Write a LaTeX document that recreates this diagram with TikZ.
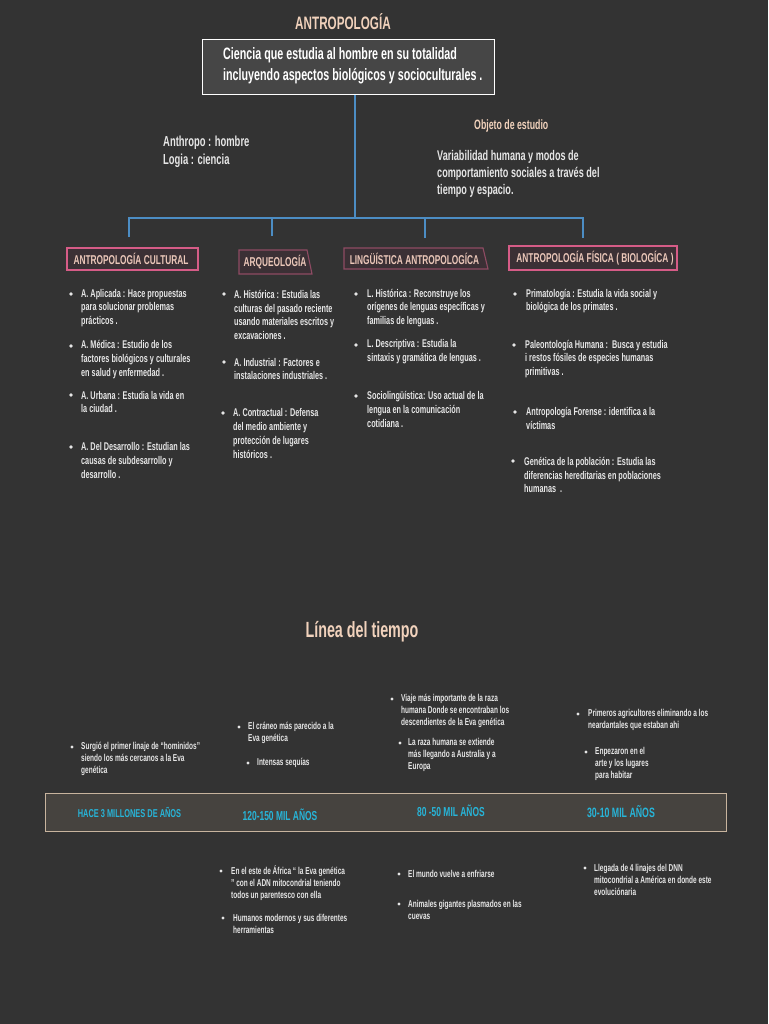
\documentclass[tikz,border=0pt]{standalone}
\usepackage{fontspec}
\setmainfont{Liberation Sans}[FakeStretch=0.65]
\definecolor{bg}{HTML}{333333}
\definecolor{boxgray}{HTML}{464646}
\definecolor{peach}{HTML}{F1D2BC}
\definecolor{hpeach}{HTML}{EBC7B9}
\definecolor{linkblue}{HTML}{4C8DC4}
\definecolor{pinkA}{HTML}{D65C87}
\definecolor{pinkB}{HTML}{8E4B63}
\definecolor{hfillc}{HTML}{3B3035}
\definecolor{bodyc}{HTML}{E6E6E6}
\definecolor{bandfill}{HTML}{46433F}
\definecolor{bandline}{HTML}{C8B49E}
\definecolor{cyanlab}{HTML}{27B5D9}
\tikzset{
  conn/.style={draw=linkblue, line width=1.1pt},
  hbox/.style={draw=pinkA, fill=hfillc, line width=1.1pt, inner sep=0pt},
  htxt/.style={text=hpeach, font=\fontsize{12.8}{14}\selectfont\bfseries, inner sep=0pt},
  toptxt/.style={text=bodyc, font=\fontsize{11.2}{13.8}\selectfont\bfseries, align=left, inner sep=0pt, anchor=west},
  tltxt/.style={text=bodyc, font=\fontsize{10}{12}\selectfont\bfseries, align=left, inner sep=0pt, anchor=west},
  labtxt/.style={text=cyanlab, inner sep=0pt},
}
\newcommand\topitem[6]{%
  \fill[bodyc] (#2,#4) circle (1.9);
  \node[toptxt] (#1) at (#3,{(#4+#5)/2}) {#6};
}
\newcommand\tlitem[6]{%
  \fill[bodyc] (#2,#4) circle (1.6);
  \node[tltxt] (#1) at (#3,{(#4+#5)/2}) {#6};
}
\begin{document}
\begin{tikzpicture}[x=1pt,y=-1pt]
\fill[bg] (0,0) rectangle (768,1024);
\useasboundingbox (0,0) rectangle (768,1024);

% title
\node[text=peach, font=\fontsize{18}{20}\selectfont\bfseries, inner sep=0pt] (title) at (343,22) {ANTROPOLOGÍA};

% main box
\node[draw=white, fill=boxgray, line width=1.2pt, minimum width=292pt, minimum height=55pt, anchor=north west, inner sep=0pt] (main) at (202,39) {};
\node[text=white, font=\fontsize{16.5}{21}\selectfont\bfseries, align=left, anchor=west, inner sep=0pt] (maintxt) at (223,65.5) {Ciencia que estudia al hombre en su totalidad\\incluyendo aspectos biológicos y socioculturales .};

% side texts
\node[text=bodyc, font=\fontsize{14.5}{18}\selectfont\bfseries, align=left, anchor=west, inner sep=0pt] (etym) at (163,152) {Anthropo : hombre\\Logia : ciencia};
\node[text=peach, font=\fontsize{13.5}{15}\selectfont\bfseries, anchor=west, inner sep=0pt] (objhead) at (474,126) {Objeto de estudio};
\node[text=bodyc, font=\fontsize{14}{17.3}\selectfont\bfseries, align=left, anchor=west, inner sep=0pt] (objtxt) at (437,174) {Variabilidad humana y modos de\\comportamiento sociales a través del\\tiempo y espacio.};

% connectors
\coordinate (hub) at (355,218);
\coordinate (d1) at (129,237);
\coordinate (d2) at (272,236);
\coordinate (d3) at (425,238);
\coordinate (d4) at (583,238);
\draw[conn] (main.south -| hub) -- (hub);
\draw[conn] (d1) -- (d1 |- hub) -- (d4 |- hub) -- (d4);
\draw[conn] (d2) -- (d2 |- hub);
\draw[conn] (d3) -- (d3 |- hub);

% headings
\node[hbox, minimum width=131pt, minimum height=22pt] (h1box) at (132.5,259) {};
\node[htxt] (h1) at (131,259) {ANTROPOLOGÍA CULTURAL};
\filldraw[hbox, draw=pinkB] (239,250) -- (307,250) -- (312,274) -- (239,274) -- cycle;
\node[htxt] (h2) at (275,262) {ARQUEOLOGÍA};
\filldraw[hbox, draw=pinkB] (344,248) -- (483,248) -- (488,269) -- (344,269) -- cycle;
\node[htxt] (h3) at (414.5,258.5) {LINGÜÍSTICA ANTROPOLOGÍCA};
\node[hbox, minimum width=168pt, minimum height=24pt] (h4box) at (593,258) {};
\node[htxt] (h4) at (595,258) {ANTROPOLOGÍA FÍSICA ( BIOLOGÍCA )};

% column 1
\topitem{c1a}{71}{81}{294}{322}{A. Aplicada : Hace propuestas\\para solucionar problemas\\prácticos .}
\topitem{c1b}{71}{81}{346}{373}{A. Médica : Estudio de los\\factores biológicos y culturales\\en salud y enfermedad .}
\topitem{c1c}{71}{81}{395}{409}{A. Urbana : Estudia la vida en\\la ciudad .}
\topitem{c1d}{71}{81}{447}{474}{A. Del Desarrollo : Estudian las\\causas de subdesarrollo y\\desarrollo .}
% column 2
\topitem{c2a}{224}{234}{294}{336}{A. Histórica : Estudia las\\culturas del pasado reciente\\usando materiales escritos y\\excavaciones .}
\topitem{c2b}{224}{234}{362}{376}{A. Industrial : Factores e\\instalaciones industriales .}
\topitem{c2c}{223}{233}{413}{454}{A. Contractual : Defensa\\del medio ambiente y\\protección de lugares\\históricos .}
% column 3
\topitem{c3a}{356}{367}{294}{322}{L. Histórica : Reconstruye los\\orígenes de lenguas específicas y\\familias de lenguas .}
\topitem{c3b}{356}{367}{345}{359}{L. Descriptiva : Estudia la\\sintaxis y gramática de lenguas .}
\topitem{c3c}{356}{367}{396}{423}{Sociolingüística: Uso actual de la\\lengua en la comunicación\\cotidiana .}
% column 4
\topitem{c4a}{515}{526}{294}{308}{Primatología : Estudia la vida social y\\biológica de los primates .}
\topitem{c4b}{514}{525}{345}{373}{Paleontología Humana :\ \ Busca y estudia\\i restos fósiles de especies humanas\\primitivas .}
\topitem{c4c}{515}{526}{412}{425}{Antropología Forense : identifica a la\\víctimas}
\topitem{c4d}{513}{524}{461}{489}{Genética de la población : Estudia las\\diferencias hereditarias en poblaciones\\humanas\ \ .}

% timeline title
\node[text=peach, font=\fontsize{22}{24}\selectfont\bfseries, inner sep=0pt] (tltitle) at (362,632) {Línea del tiempo};

% above band
\tlitem{t1}{72}{81}{747}{771}{Surgió el primer linaje de “hominidos”\\siendo los más cercanos a la Eva\\genética}
\tlitem{t2}{239}{248}{727}{739}{El cráneo más parecido a la\\Eva genética}
\tlitem{t3}{248}{257}{763}{763}{Intensas sequías}
\tlitem{t4}{392}{401}{699}{723}{Viaje más importante de la raza\\humana Donde se encontraban los\\descendientes de la Eva genética}
\tlitem{t5}{400}{408}{743}{767}{La raza humana se extiende\\más llegando a Australia y a\\Europa}
\tlitem{t6}{578}{588}{714}{725}{Primeros agricultores eliminando a los\\neardantales que estaban ahi}
\tlitem{t7}{586}{595}{752}{776}{Enpezaron en el\\arte y los lugares\\para habitar}

% band
\node[draw=bandline, fill=bandfill, line width=1pt, minimum width=681pt, minimum height=38pt, anchor=north west, inner sep=0pt] (band) at (45,793) {};
\node[labtxt, font=\fontsize{11.4}{13}\selectfont\bfseries] (lab1) at (129.5,812.5) {HACE 3 MILLONES DE AÑOS};
\node[labtxt, font=\fontsize{13}{14}\selectfont\bfseries] (lab2) at (280,814.3) {120-150 MIL AÑOS};
\node[labtxt, font=\fontsize{13}{14}\selectfont\bfseries] (lab3) at (451,811) {80 -50 MIL AÑOS};
\node[labtxt, font=\fontsize{13.5}{14}\selectfont\bfseries] (lab4) at (621,811.7) {30-10 MIL AÑOS};

% below band
\tlitem{b1}{221}{231}{871}{895}{En el este de África “ la Eva genética\\” con el ADN mitocondrial teniendo\\todos un parentesco con ella}
\tlitem{b2}{223}{233}{918}{930}{Humanos modernos y sus diferentes\\herramientas}
\tlitem{b3}{399}{408}{874}{874}{El mundo vuelve a enfriarse}
\tlitem{b4}{399}{408}{904}{916}{Animales gigantes plasmados en las\\cuevas}
\tlitem{b5}{585}{594}{868}{892}{Llegada de 4 linajes del DNN\\mitocondrial a América en donde este\\evoluciónaria}
\end{tikzpicture}
\end{document}
